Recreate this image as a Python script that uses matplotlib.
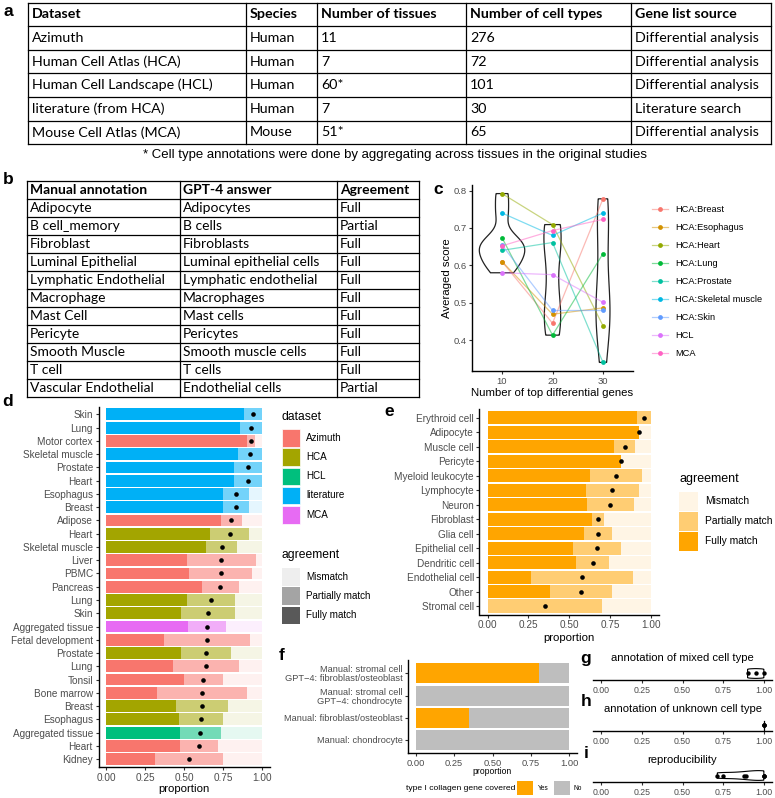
import numpy as np
import matplotlib
matplotlib.use("Agg")
import matplotlib.pyplot as plt
from matplotlib.patches import Rectangle

plt.rcParams['font.family'] = ['Liberation Sans', 'DejaVu Sans']
TAB = ['Lato', 'DejaVu Sans']

# ---------------- data ----------------
a_header = ["Dataset", "Species", "Number of tissues", "Number of cell types", "Gene list source"]
a_dataset = ["Azimuth", "Human Cell Atlas (HCA)", "Human Cell Landscape (HCL)", "literature (from HCA)", "Mouse Cell Atlas (MCA)"]
a_species = ["Human", "Human", "Human", "Human", "Mouse"]
a_tissues = ["11", "7", "60*", "7", "51*"]
a_celltypes = ["276", "72", "101", "30", "65"]
a_source = ["Differential analysis", "Differential analysis", "Differential analysis", "Literature search", "Differential analysis"]
a_note = "* Cell type annotations were done by aggregating across tissues in the original studies"

b_header = ["Manual annotation", "GPT-4 answer", "Agreement"]
b_manual = ["Adipocyte", "B cell_memory", "Fibroblast", "Luminal Epithelial", "Lymphatic Endothelial",
            "Macrophage", "Mast Cell", "Pericyte", "Smooth Muscle", "T cell", "Vascular Endothelial"]
b_gpt = ["Adipocytes", "B cells", "Fibroblasts", "Luminal epithelial cells", "Lymphatic endothelial",
         "Macrophages", "Mast cells", "Pericytes", "Smooth muscle cells", "T cells", "Endothelial cells"]
b_agree = ["Full", "Partial", "Full", "Full", "Full", "Full", "Full", "Full", "Full", "Full", "Partial"]

c_genes = [10, 20, 30]
c_series = ["HCA:Breast", "HCA:Esophagus", "HCA:Heart", "HCA:Lung", "HCA:Prostate",
            "HCA:Skeletal muscle", "HCA:Skin", "HCL", "MCA"]
c_breast = [0.610, 0.445, 0.778]
c_esophagus = [0.610, 0.469, 0.486]
c_heart = [0.792, 0.709, 0.438]
c_lung = [0.674, 0.413, 0.631]
c_prostate = [0.640, 0.661, 0.340]
c_skeletal = [0.740, 0.680, 0.740]
c_skin = [0.654, 0.479, 0.479]
c_hcl = [0.580, 0.575, 0.501]
c_mca = [0.652, 0.693, 0.723]
c_scores = [c_breast, c_esophagus, c_heart, c_lung, c_prostate, c_skeletal, c_skin, c_hcl, c_mca]

d_tissue = ["Skin", "Lung", "Motor cortex", "Skeletal muscle", "Prostate", "Heart", "Esophagus", "Breast",
            "Adipose", "Heart", "Skeletal muscle", "Liver", "PBMC", "Pancreas", "Lung", "Skin",
            "Aggregated tissue", "Fetal development", "Prostate", "Lung", "Tonsil", "Bone marrow",
            "Breast", "Esophagus", "Aggregated tissue", "Heart", "Kidney"]
d_dataset = ["literature", "literature", "Azimuth", "literature", "literature", "literature", "literature",
             "literature", "Azimuth", "HCA", "HCA", "Azimuth", "Azimuth", "Azimuth", "HCA", "HCA", "MCA",
             "Azimuth", "HCA", "Azimuth", "Azimuth", "Azimuth", "HCA", "HCA", "HCL", "Azimuth", "Azimuth"]
d_full = [0.883, 0.857, 0.900, 0.846, 0.819, 0.819, 0.748, 0.748, 0.733, 0.665, 0.640, 0.520, 0.533, 0.616,
          0.520, 0.480, 0.522, 0.371, 0.480, 0.426, 0.497, 0.326, 0.446, 0.467, 0.475, 0.475, 0.313]
d_partial = [0.117, 0.143, 0.053, 0.154, 0.181, 0.181, 0.169, 0.169, 0.135, 0.252, 0.200, 0.437, 0.403, 0.233,
             0.307, 0.347, 0.248, 0.550, 0.320, 0.427, 0.251, 0.574, 0.332, 0.281, 0.258, 0.241, 0.435]
d_names = ["Azimuth", "HCA", "HCL", "literature", "MCA"]
d_colors = ["#F8766D", "#A3A500", "#00BF7D", "#00B0F6", "#E76BF3"]

agree_levels = ["Mismatch", "Partially match", "Fully match"]
agree_alpha = [0.1, 0.55, 1.0]

e_cell = ["Erythroid cell", "Adipocyte", "Muscle cell", "Pericyte", "Myeloid leukocyte", "Lymphocyte",
          "Neuron", "Fibroblast", "Glia cell", "Epithelial cell", "Dendritic cell", "Endothelial cell",
          "Other", "Stromal cell"]
e_full = [0.918, 0.930, 0.776, 0.816, 0.630, 0.600, 0.608, 0.641, 0.590, 0.522, 0.543, 0.267, 0.380, 0.000]
e_partial = [0.082, 0.000, 0.126, 0.000, 0.313, 0.327, 0.288, 0.075, 0.175, 0.294, 0.200, 0.621, 0.383, 0.700]

f_labels = ["Manual: stromal cell\nGPT\u22124: fibroblast/osteoblast", "Manual: stromal cell\nGPT\u22124: chondrocyte",
            "Manual: fibroblast/osteoblast", "Manual: chondrocyte"]
f_yes = [0.80, 0.0, 0.35, 0.0]

g_vals = [0.90, 0.95, 1.0]
h_vals = [1.0, 1.0, 1.0]
i_vals = [0.714, 0.75, 0.875, 0.889, 1.0, 1.0, 1.0]
ghi_titles = ["annotation of mixed cell type", "annotation of unknown cell type", "reproducibility"]

prop_ticks = [0, 0.25, 0.5, 0.75, 1.0]
prop_labels = ["0.00", "0.25", "0.50", "0.75", "1.00"]

# ---------------- helpers ----------------
W, H = 775, 798
fig = plt.figure(figsize=(W / 100, H / 100), dpi=100)
TXT = "#4D4D4D"

ov = fig.add_axes([0, 0, 1, 1])
ov.set_xlim(0, W)
ov.set_ylim(H, 0)
ov.axis('off')


def axpx(x0, y0, x1, y1):
    a = fig.add_axes([x0 / W, 1 - y1 / H, (x1 - x0) / W, (y1 - y0) / H])
    a.set_facecolor('none')
    return a


def style(ax, fs=7.2):
    for s in ['top', 'right']:
        ax.spines[s].set_visible(False)
    for s in ['left', 'bottom']:
        ax.spines[s].set_linewidth(1.0)
    ax.tick_params(labelsize=fs, labelcolor=TXT, color='#333333', length=2.5, width=0.8, pad=1.5)


def kde(vals, n=512):
    v = np.asarray(vals, float)
    if np.ptp(v) == 0:
        return np.full(n, v[0]), np.ones(n)
    sd = v.std(ddof=1)
    q75, q25 = np.percentile(v, [75, 25])
    lo = min(sd, (q75 - q25) / 1.34)
    if lo == 0:
        lo = sd
    bw = 0.9 * lo * v.size ** -0.2
    grid = np.linspace(v.min(), v.max(), n)
    dens = np.exp(-0.5 * ((grid[:, None] - v[None, :]) / bw) ** 2).sum(1) / (v.size * bw * np.sqrt(2 * np.pi))
    return grid, dens


def panel_label(x, y, s):
    ov.text(x, y, s, fontsize=12.5, weight='bold', ha='center', va='center')


def draw_table(x_edges, y_top, row_h, rows, fs, pad=4):
    n = len(rows)
    for i in range(n + 1):
        yy = y_top + i * row_h
        ov.plot([x_edges[0], x_edges[-1]], [yy, yy], color='k', lw=0.9, solid_capstyle='projecting')
    for xx in x_edges:
        ov.plot([xx, xx], [y_top, y_top + n * row_h], color='k', lw=0.9, solid_capstyle='projecting')
    for i, row in enumerate(rows):
        for j, t in enumerate(row):
            ov.text(x_edges[j] + pad, y_top + (i + 0.5) * row_h, t, ha='left', va='center',
                    fontsize=fs, family=TAB, weight='bold' if i == 0 else 'normal')


# ---------------- panel a ----------------
panel_label(8, 12, "a")
rows_a = [a_header] + [list(r) for r in zip(a_dataset, a_species, a_tissues, a_celltypes, a_source)]
draw_table([28, 246, 317, 466, 631, 771], 2.5, 23.6, rows_a, 10.3)
ov.text(395, 155, a_note, ha='center', va='center', fontsize=9.5)

# ---------------- panel b ----------------
panel_label(8, 179, "b")
rows_b = [b_header] + [list(r) for r in zip(b_manual, b_gpt, b_agree)]
draw_table([27, 180, 337, 419], 181, 18, rows_b, 10.0, pad=3)

# ---------------- panel c ----------------
panel_label(438, 190, "c")
cols9 = ["#F8766D", "#D39200", "#93AA00", "#00BA38", "#00C19F", "#00B9E3", "#619CFF", "#DB72FB", "#FF61C3"]
axc = axpx(472, 185, 633, 371)
groups = [[sc[k] for sc in c_scores] for k in range(len(c_genes))]
kds = [kde(g) for g in groups]
mx = max(d.max() for _, d in kds)
for gx, (grid, dens) in zip(c_genes, kds):
    hw = dens / mx * 4.5
    axc.fill(np.r_[gx + hw, (gx - hw)[::-1]], np.r_[grid, grid[::-1]], facecolor='none',
             edgecolor='#222222', lw=0.9, zorder=1)
for sc, col in zip(c_scores, cols9):
    axc.plot(c_genes, sc, color=col, alpha=0.5, lw=0.9, zorder=2)
    axc.scatter(c_genes, sc, color=col, s=12, lw=0, zorder=3)
axc.set_xlim(4.05, 35.95)
axc.set_ylim(0.317, 0.815)
axc.set_xticks(c_genes)
axc.set_yticks([0.4, 0.5, 0.6, 0.7, 0.8])
axc.set_yticklabels(["0.4", "0.5", "0.6", "0.7", "0.8"])
style(axc, 6.8)
ov.text(552.5, 393, "Number of top differential genes", ha='center', va='center', fontsize=8.2)
ov.text(447, 278, "Averaged score", ha='center', va='center', rotation=90, fontsize=8.2)
for k, (s, col) in enumerate(zip(c_series, cols9)):
    yy = 209 + 18 * k
    ov.plot([652, 668], [yy, yy], color=col, alpha=0.5, lw=0.9)
    ov.scatter([660], [yy], color=col, s=12, lw=0)
    ov.text(675, yy, s, ha='left', va='center', fontsize=6.7)

# ---------------- panel d ----------------
panel_label(8, 402, "d")
axd = axpx(98.5, 406.5, 270, 767)
yd = np.arange(len(d_tissue))
dmap = dict(zip(d_names, d_colors))
dc = [dmap[k] for k in d_dataset]
full = np.array(d_full)
part = np.array(d_partial)
mis = 1 - full - part
axd.barh(yd, full, height=0.9, color=dc, alpha=agree_alpha[2], lw=0)
axd.barh(yd, part, left=full, height=0.9, color=dc, alpha=agree_alpha[1], lw=0)
axd.barh(yd, mis, left=full + part, height=0.9, color=dc, alpha=agree_alpha[0], lw=0)
axd.scatter(full + 0.5 * part, yd, s=11, color='k', lw=0, zorder=3)
axd.set_xlim(-0.05, 1.05)
axd.set_ylim(len(d_tissue) - 0.4, -0.6)
axd.set_yticks(yd)
axd.set_yticklabels(d_tissue)
axd.set_xticks(prop_ticks)
axd.set_xticklabels(prop_labels)
style(axd, 7.2)
ov.text(184, 789, "proportion", ha='center', va='center', fontsize=8.2)

# legend d
ov.text(281, 417, "dataset", ha='left', va='center', fontsize=8.7)
for k, (nm, col) in enumerate(zip(d_names, d_colors)):
    top = 429 + 19.25 * k
    ov.add_patch(Rectangle((282, top), 17.5, 17.5, facecolor=col, edgecolor='white', lw=0.5))
    ov.text(306, top + 8.75, nm, ha='left', va='center', fontsize=7.1)
ov.text(281, 555, "agreement", ha='left', va='center', fontsize=8.7)
for k, (nm, al) in enumerate(zip(agree_levels, agree_alpha)):
    top = 568 + 19.25 * k
    ov.add_patch(Rectangle((282, top), 17.5, 17.5, facecolor='#595959', alpha=al, edgecolor='none'))
    ov.text(306, top + 8.75, nm, ha='left', va='center', fontsize=7.1)

# ---------------- panel e ----------------
panel_label(389, 412, "e")
axe = axpx(479.5, 409, 659, 614.7)
ye = np.arange(len(e_cell))
ef = np.array(e_full)
ep = np.array(e_partial)
em = 1 - ef - ep
ORANGE = "#FFA500"
axe.barh(ye, ef, height=0.9, color=ORANGE, alpha=agree_alpha[2], lw=0)
axe.barh(ye, ep, left=ef, height=0.9, color=ORANGE, alpha=agree_alpha[1], lw=0)
axe.barh(ye, em, left=ef + ep, height=0.9, color=ORANGE, alpha=agree_alpha[0], lw=0)
axe.scatter(ef + 0.5 * ep, ye, s=11, color='k', lw=0, zorder=3)
axe.set_xlim(-0.05, 1.05)
axe.set_ylim(len(e_cell) - 0.4, -0.6)
axe.set_yticks(ye)
axe.set_yticklabels(e_cell)
axe.set_xticks(prop_ticks)
axe.set_xticklabels(prop_labels)
style(axe, 7.2)
ov.text(569, 638, "proportion", ha='center', va='center', fontsize=8.2)
ov.text(679, 479, "agreement", ha='left', va='center', fontsize=9)
for k, (nm, al) in enumerate(zip(agree_levels, agree_alpha)):
    top = 492 + 20 * k
    ov.add_patch(Rectangle((679, top), 18.5, 18.5, facecolor=ORANGE, alpha=al, edgecolor='none'))
    ov.text(705, top + 9.25, nm, ha='left', va='center', fontsize=7.4)

# ---------------- panel f ----------------
panel_label(282, 656, "f")
axf = axpx(408, 660, 577, 753.3)
yf = np.arange(len(f_labels))
fy = np.array(f_yes)
axf.barh(yf, fy, height=0.9, color=ORANGE, lw=0)
axf.barh(yf, 1 - fy, left=fy, height=0.9, color="#BEBEBE", lw=0)
axf.set_xlim(-0.05, 1.05)
axf.set_ylim(len(f_labels) - 0.4, -0.6)
axf.set_yticks(yf)
axf.set_yticklabels(f_labels, linespacing=1.0)
axf.set_xticks(prop_ticks)
axf.set_xticklabels(prop_labels)
style(axf, 6.7)
ov.text(492.5, 772, "proportion", ha='center', va='center', fontsize=6.2)
ov.text(515, 788, "type I collagen gene covered", ha='right', va='center', fontsize=6.1)
ov.add_patch(Rectangle((517, 781), 16, 14, facecolor=ORANGE, edgecolor='none'))
ov.text(538, 788, "Yes", ha='left', va='center', fontsize=4.8)
ov.add_patch(Rectangle((554, 781), 16, 14, facecolor="#BEBEBE", edgecolor='none'))
ov.text(573, 788, "No", ha='left', va='center', fontsize=4.8)

# ---------------- panels g, h, i ----------------
ghi = [(g_vals, "g", 667, 680, 658, 658), (h_vals, "h", 719, 731, 709, 701), (i_vals, "i", 769, 782, 760, 754)]
for (vals, lab, y0, y1, ty, ly), title in zip(ghi, ghi_titles):
    panel_label(586, ly, lab)
    ax = axpx(593, y0, 772, y1)
    grid, dens = kde(vals)
    hw = dens / dens.max() * 0.45
    if np.ptp(grid) == 0:
        ax.plot([grid[0], grid[0]], [1 - 0.45, 1 + 0.45], color='k', lw=0.9)
    else:
        ax.fill(np.r_[grid, grid[::-1]], np.r_[1 + hw, (1 - hw)[::-1]], facecolor='none', edgecolor='k', lw=0.8)
    ax.scatter(vals, np.ones(len(vals)), s=10, color='k', lw=0, zorder=3)
    ax.set_xlim(-0.05, 1.05)
    ax.set_ylim(0.4, 1.6)
    ax.set_yticks([])
    ax.set_xticks(prop_ticks)
    ax.set_xticklabels(prop_labels)
    style(ax, 6.3)
    ax.spines['left'].set_visible(False)
    ov.text(682.5, ty, title, ha='center', va='center', fontsize=8.1)

fig.savefig("out.png", dpi=100)
